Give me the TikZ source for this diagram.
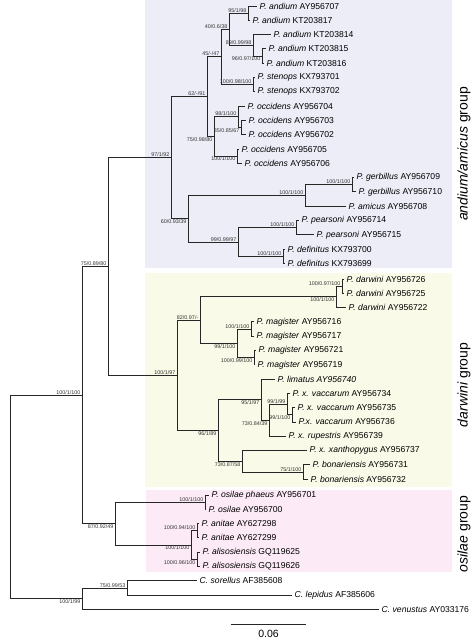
\documentclass[tikz,border=0pt]{standalone}
\usepackage{fontspec}
\setmainfont{Liberation Sans}
\definecolor{purpbg}{RGB}{237,237,248}
\definecolor{yelbg}{RGB}{250,250,232}
\definecolor{pinkbg}{RGB}{252,235,246}
\begin{document}
\begin{tikzpicture}[x=1pt,y=-1pt]
\tikzset{
 br/.style={draw=black!85, line width=0.9pt},
 tip/.style={anchor=west, inner sep=2.5pt, font=\fontsize{8.6}{9}\selectfont},
 bsa/.style={anchor=south east, inner sep=0.7pt, xshift=-0.8pt, font=\fontsize{5.4}{6}\selectfont, text=black!80},
 bsb/.style={anchor=north east, inner sep=0.7pt, xshift=-0.8pt, font=\fontsize{5.4}{6}\selectfont, text=black!80},
 grp/.style={rotate=90, font=\fontsize{14}{16}\selectfont},
}
\useasboundingbox (0,0) rectangle (474,641);
\fill[purpbg] (145,0) rectangle (452,268);
\fill[yelbg] (145,273) rectangle (452,487);
\fill[pinkbg] (146,490) rectangle (452,572);

% tips
\node[tip] (t1) at (257,6) {\textit{P. andium} AY956707};
\node[tip] (t2) at (250,20.3) {\textit{P. andium} KT203817};
\node[tip] (t3) at (271,34.6) {\textit{P. andium} KT203814};
\node[tip] (t4) at (266,48.9) {\textit{P. andium} KT203815};
\node[tip] (t5) at (264,63.2) {\textit{P. andium} KT203816};
\node[tip] (t6) at (255,77.5) {\textit{P. stenops} KX793701};
\node[tip] (t7) at (255,91.8) {\textit{P. stenops} KX793702};
\node[tip] (t8) at (245,106.1) {\textit{P. occidens} AY956704};
\node[tip] (t9) at (246,120.4) {\textit{P. occidens} AY956703};
\node[tip] (t10) at (246,134.7) {\textit{P. occidens} AY956702};
\node[tip] (t11) at (239,149) {\textit{P. occidens} AY956705};
\node[tip] (t12) at (242,163.3) {\textit{P. occidens} AY956706};
\node[tip] (t13) at (354,177.6) {\textit{P. gerbillus} AY956709};
\node[tip] (t14) at (356,191.9) {\textit{P. gerbillus} AY956710};
\node[tip] (t15) at (346,206.2) {\textit{P. amicus} AY956708};
\node[tip] (t16) at (299,220.5) {\textit{P. pearsoni} AY956714};
\node[tip] (t17) at (314,234.8) {\textit{P. pearsoni} AY956715};
\node[tip] (t18) at (285,249.1) {\textit{P. definitus} KX793700};
\node[tip] (t19) at (285,263.4) {\textit{P. definitus} KX793699};
\node[tip] (t20) at (344,279) {\textit{P. darwini} AY956726};
\node[tip] (t21) at (344,293.3) {\textit{P. darwini} AY956725};
\node[tip] (t22) at (346,307.6) {\textit{P. darwini} AY956722};
\node[tip] (t23) at (254,321.9) {\textit{P. magister} AY956716};
\node[tip] (t24) at (254,336.2) {\textit{P. magister} AY956717};
\node[tip] (t25) at (256,350.5) {\textit{P. magister} AY956721};
\node[tip] (t26) at (255,364.8) {\textit{P. magister} AY956719};
\node[tip] (t27) at (275,379.1) {\textit{P. limatus} \textit{AY956740}};
\node[tip] (t28) at (290,393.4) {\textit{P. x. vaccarum} AY956734};
\node[tip] (t29) at (295,407.7) {\textit{P. x. vaccarum} AY956735};
\node[tip] (t30) at (296,422) {\textit{P.x. vaccarum} AY956736};
\node[tip] (t31) at (286,436.3) {\textit{P. x. rupestris} AY956739};
\node[tip] (t32) at (307,450.6) {\textit{P. x. xanthopygus} AY956737};
\node[tip] (t33) at (310,464.9) {\textit{P. bonariensis} AY956731};
\node[tip] (t34) at (308,479.2) {\textit{P. bonariensis} AY956732};
\node[tip] (t35) at (209,495) {\textit{P. osilae phaeus} AY956701};
\node[tip] (t36) at (206,509.3) {\textit{P. osilae} AY956700};
\node[tip] (t37) at (199,523.6) {\textit{P. anitae} AY627298};
\node[tip] (t38) at (199,537.9) {\textit{P. anitae} AY627299};
\node[tip] (t39) at (200,552.2) {\textit{P. alisosiensis} GQ119625};
\node[tip] (t40) at (200,566.5) {\textit{P. alisosiensis} GQ119626};
\node[tip] (t41) at (197,580.8) {\textit{C. sorellus} AF385608};
\node[tip] (t42) at (292,595.1) {\textit{C. lepidus} AF385606};
\node[tip] (t43) at (379,609.4) {\textit{C. venustus} AY033176};

% internal nodes
\coordinate (A1) at (248,13.15);
\coordinate (A3) at (262,56.05);
\coordinate (A2) at (253,45.3);
\coordinate (N40) at (229,29.2);
\coordinate (S) at (253,84.65);
\coordinate (N45) at (221,56.9);
\coordinate (O2) at (241,127.55);
\coordinate (O1) at (238,116.8);
\coordinate (O3) at (237,156.15);
\coordinate (N75o) at (214,136.5);
\coordinate (N62) at (207,96.7);
\coordinate (G1) at (352,184.75);
\coordinate (G2) at (305,195.5);
\coordinate (P1) at (296,227.65);
\coordinate (D1) at (283,256.25);
\coordinate (N99) at (238,241.95);
\coordinate (N60) at (188,218.7);
\coordinate (N97) at (171,157.7);
\coordinate (DW1) at (342,286.15);
\coordinate (DW2) at (336,296.9);
\coordinate (M1) at (251,329.05);
\coordinate (M2) at (254,357.65);
\coordinate (M) at (237,343.35);
\coordinate (N82) at (200,320.1);
\coordinate (V2) at (292,414.85);
\coordinate (V1) at (287,404.1);
\coordinate (N73a) at (269,420.2);
\coordinate (N95) at (261,399.65);
\coordinate (B) at (303,472.05);
\coordinate (N73b) at (242,461.3);
\coordinate (N96) at (218,430.5);
\coordinate (Dg) at (177,375.3);
\coordinate (N75) at (108,266.5);
\coordinate (OS1) at (205,502.15);
\coordinate (AN1) at (197,530.75);
\coordinate (AL1) at (197,559.35);
\coordinate (AA) at (191,545.05);
\coordinate (N87) at (115,523.6);
\coordinate (NR) at (82,395.05);
\coordinate (C1) at (127,587.95);
\coordinate (CO) at (82,598.7);
\coordinate (R) at (10,496.9);

% branches
\draw[br] (A1) |- (t1.west); \draw[br] (A1) |- (t2.west);
\draw[br] (A3) |- (t4.west); \draw[br] (A3) |- (t5.west);
\draw[br] (A2) |- (t3.west); \draw[br] (A2) |- (A3);
\draw[br] (N40) |- (A1); \draw[br] (N40) |- (A2);
\draw[br] (S) |- (t6.west); \draw[br] (S) |- (t7.west);
\draw[br] (N45) |- (N40); \draw[br] (N45) |- (S);
\draw[br] (O2) |- (t9.west); \draw[br] (O2) |- (t10.west);
\draw[br] (O1) |- (t8.west); \draw[br] (O1) |- (O2);
\draw[br] (O3) |- (t11.west); \draw[br] (O3) |- (t12.west);
\draw[br] (N75o) |- (O1); \draw[br] (N75o) |- (O3);
\draw[br] (N62) |- (N45); \draw[br] (N62) |- (N75o);
\draw[br] (G1) |- (t13.west); \draw[br] (G1) |- (t14.west);
\draw[br] (G2) |- (G1); \draw[br] (G2) |- (t15.west);
\draw[br] (P1) |- (t16.west); \draw[br] (P1) |- (t17.west);
\draw[br] (D1) |- (t18.west); \draw[br] (D1) |- (t19.west);
\draw[br] (N99) |- (P1); \draw[br] (N99) |- (D1);
\draw[br] (N60) |- (G2); \draw[br] (N60) |- (N99);
\draw[br] (N97) |- (N62); \draw[br] (N97) |- (N60);
\draw[br] (DW1) |- (t20.west); \draw[br] (DW1) |- (t21.west);
\draw[br] (DW2) |- (DW1); \draw[br] (DW2) |- (t22.west);
\draw[br] (M1) |- (t23.west); \draw[br] (M1) |- (t24.west);
\draw[br] (M2) |- (t25.west); \draw[br] (M2) |- (t26.west);
\draw[br] (M) |- (M1); \draw[br] (M) |- (M2);
\draw[br] (N82) |- (DW2); \draw[br] (N82) |- (M);
\draw[br] (V2) |- (t29.west); \draw[br] (V2) |- (t30.west);
\draw[br] (V1) |- (t28.west); \draw[br] (V1) |- (V2);
\draw[br] (N73a) |- (V1); \draw[br] (N73a) |- (t31.west);
\draw[br] (N95) |- (t27.west); \draw[br] (N95) |- (N73a);
\draw[br] (B) |- (t33.west); \draw[br] (B) |- (t34.west);
\draw[br] (N73b) |- (t32.west); \draw[br] (N73b) |- (B);
\draw[br] (N96) |- (N95); \draw[br] (N96) |- (N73b);
\draw[br] (Dg) |- (N82); \draw[br] (Dg) |- (N96);
\draw[br] (N75) |- (N97); \draw[br] (N75) |- (Dg);
\draw[br] (OS1) |- (t35.west); \draw[br] (OS1) |- (t36.west);
\draw[br] (AN1) |- (t37.west); \draw[br] (AN1) |- (t38.west);
\draw[br] (AL1) |- (t39.west); \draw[br] (AL1) |- (t40.west);
\draw[br] (AA) |- (AN1); \draw[br] (AA) |- (AL1);
\draw[br] (N87) |- (OS1); \draw[br] (N87) |- (AA);
\draw[br] (NR) |- (N75); \draw[br] (NR) |- (N87);
\draw[br] (C1) |- (t41.west); \draw[br] (C1) |- (t42.west);
\draw[br] (CO) |- (C1); \draw[br] (CO) |- (t43.west);
\draw[br] (R) |- (NR); \draw[br] (R) |- (CO);

% support values
\node[bsa] (lA1) at (A1) {95/1/98};
\node[bsa] (lN40) at (N40) {40/0.6/38};
\node[bsa] (lA2) at (A2) {89/0.99/98};
\node[bsb] (lA3) at (A3) {96/0.97/100};
\node[bsa] (lN45) at (N45) {45/-/47};
\node[bsa] (lS) at (S) {100/0.98/100};
\node[bsa] (lN62) at (N62) {62/-/91};
\node[bsa] (lO1) at (O1) {98/1/100};
\node[bsb] (lO2) at (O2) {85/0.85/67};
\node[bsb] (lN75o) at (N75o) {75/0.98/80};
\node[bsb] (lO3) at (O3) {100/1/100};
\node[bsa] (lN97) at (N97) {97/1/92};
\node[bsa] (lG1) at (G1) {100/1/100};
\node[bsa] (lG2) at (G2) {100/1/100};
\node[bsb] (lN60) at (N60) {60/0.93/39};
\node[bsa] (lP1) at (P1) {100/1/100};
\node[bsa] (lN99) at (N99) {99/0.99/97};
\node[bsa] (lD1) at (D1) {100/1/100};
\node[bsa] (lN75) at (N75) {75/0.89/80};
\node[bsa] (lDW1) at (DW1) {100/0.97/100};
\node[bsb] (lDW2) at (DW2) {100/1/100};
\node[bsa] (lN82) at (N82) {82/0.97/-};
\node[bsa] (lM1) at (M1) {100/1/100};
\node[bsb] (lM) at (M) {99/1/100};
\node[bsb] (lM2) at (M2) {100/0.99/100};
\node[bsa] (lDg) at (Dg) {100/1/97};
\node[bsa] (lNR) at (NR) {100/1/100};
\node[bsb] (lN95) at (N95) {95/1/97};
\node[bsa] (lV1) at (V1) {99/1/99};
\node[bsb] (lV2) at (V2) {99/1/100};
\node[bsb] (lN73a) at (N73a) {73/0.84/39};
\node[bsb] (lN96) at (N96) {96/1/89};
\node[bsb] (lN73b) at (N73b) {73/0.87/58};
\node[bsa] (lB) at (B) {75/1/100};
\node[bsa] (lOS1) at (OS1) {100/1/100};
\node[bsb] (lN87) at (N87) {87/0.92/49};
\node[bsa] (lAN1) at (AN1) {100/0.94/100};
\node[bsb] (lAA) at (AA) {100/1/100};
\node[bsb] (lAL1) at (AL1) {100/0.96/100};
\node[bsa] (lC1) at (C1) {75/0.99/53};
\node[bsb] (lCO) at (CO) {100/1/99};

% group labels
\node[grp] (g1) at (464,154) {\textit{andium/amicus} group};
\node[grp] (g2) at (464,385) {\textit{darwini} group};
\node[grp] (g3) at (464,534) {\textit{osilae} group};

% scale bar
\coordinate (sb1) at (231,624);
\coordinate (sb2) at (306,624);
\draw[br] (sb1) -- (sb2);
\node[font=\fontsize{10.5}{12}\selectfont, inner sep=1pt] (sbl) at (268.5,634) {0.06};
\end{tikzpicture}
\end{document}
